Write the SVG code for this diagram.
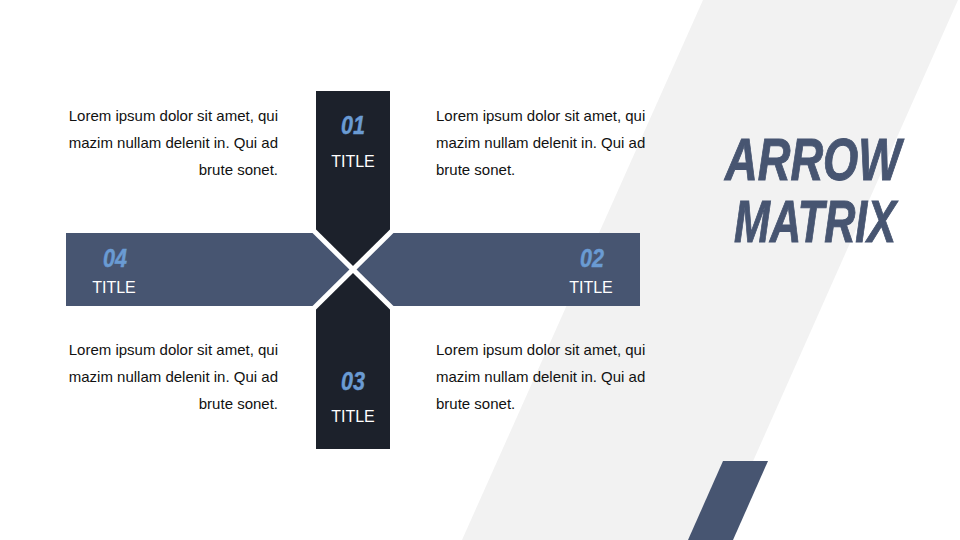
<svg xmlns="http://www.w3.org/2000/svg" width="960" height="540" viewBox="0 0 960 540">
<style>
.body{font-family:"Liberation Sans",Arial,sans-serif;font-size:15px;fill:#111111}
.num{font-family:"Liberation Sans",Arial,sans-serif;font-size:25px;font-weight:bold;font-style:italic;fill:#6a9bd3;text-anchor:middle;stroke:#6a9bd3;stroke-width:0.4}
.ttl{font-family:"Liberation Sans",Arial,sans-serif;font-size:16px;fill:#ffffff;text-anchor:middle}
.big{font-family:"Liberation Sans",Arial,sans-serif;font-size:60px;font-weight:bold;font-style:italic;fill:#475571;stroke:#475571;stroke-width:1}
.dark{fill:#1c212b}
.blue{fill:#475571}
</style>
<rect width="960" height="540" fill="#ffffff"/>
<g id="background">
<polygon points="703,0 958,0 718,540 462,540" fill="#f2f2f2"/>
<polygon class="blue" points="723,461 768,461 733,540 688,540"/>
</g>
<g id="cross">
<rect class="blue" x="66" y="233" width="574" height="73"/>
<rect class="dark" x="316" y="91" width="74" height="358"/>
<polygon class="blue" points="316,233 353,269.5 316,306"/>
<polygon class="blue" points="390,233 353,269.5 390,306"/>
<g stroke="#ffffff" stroke-width="5">
<line x1="312" y1="229" x2="394" y2="310"/>
<line x1="394" y1="229" x2="312" y2="310"/>
</g>
</g>
<g id="node-01">
<text class="num" x="353" y="134" textLength="24" lengthAdjust="spacingAndGlyphs">01</text>
<text class="ttl" x="353" y="167">TITLE</text>
</g>
<g id="node-02">
<text class="num" x="592" y="267" textLength="24" lengthAdjust="spacingAndGlyphs">02</text>
<text class="ttl" x="591" y="293">TITLE</text>
</g>
<g id="node-03">
<text class="num" x="353" y="390" textLength="24" lengthAdjust="spacingAndGlyphs">03</text>
<text class="ttl" x="353" y="422">TITLE</text>
</g>
<g id="node-04">
<text class="num" x="115" y="267" textLength="24" lengthAdjust="spacingAndGlyphs">04</text>
<text class="ttl" x="114" y="293">TITLE</text>
</g>
<g id="text-top-left" class="body" text-anchor="end">
<text x="278" y="121">Lorem ipsum dolor sit amet, qui</text>
<text x="278" y="148">mazim nullam delenit in. Qui ad</text>
<text x="278" y="175">brute sonet.</text>
</g>
<g id="text-top-right" class="body">
<text x="436" y="121">Lorem ipsum dolor sit amet, qui</text>
<text x="436" y="148">mazim nullam delenit in. Qui ad</text>
<text x="436" y="175">brute sonet.</text>
</g>
<g id="text-bottom-left" class="body" text-anchor="end">
<text x="278" y="355">Lorem ipsum dolor sit amet, qui</text>
<text x="278" y="382">mazim nullam delenit in. Qui ad</text>
<text x="278" y="409">brute sonet.</text>
</g>
<g id="text-bottom-right" class="body">
<text x="436" y="355">Lorem ipsum dolor sit amet, qui</text>
<text x="436" y="382">mazim nullam delenit in. Qui ad</text>
<text x="436" y="409">brute sonet.</text>
</g>
<g id="heading">
<text class="big" x="725" y="180" textLength="176" lengthAdjust="spacingAndGlyphs">ARROW</text>
<text class="big" x="734" y="242" textLength="162" lengthAdjust="spacingAndGlyphs">MATRIX</text>
</g>
</svg>
